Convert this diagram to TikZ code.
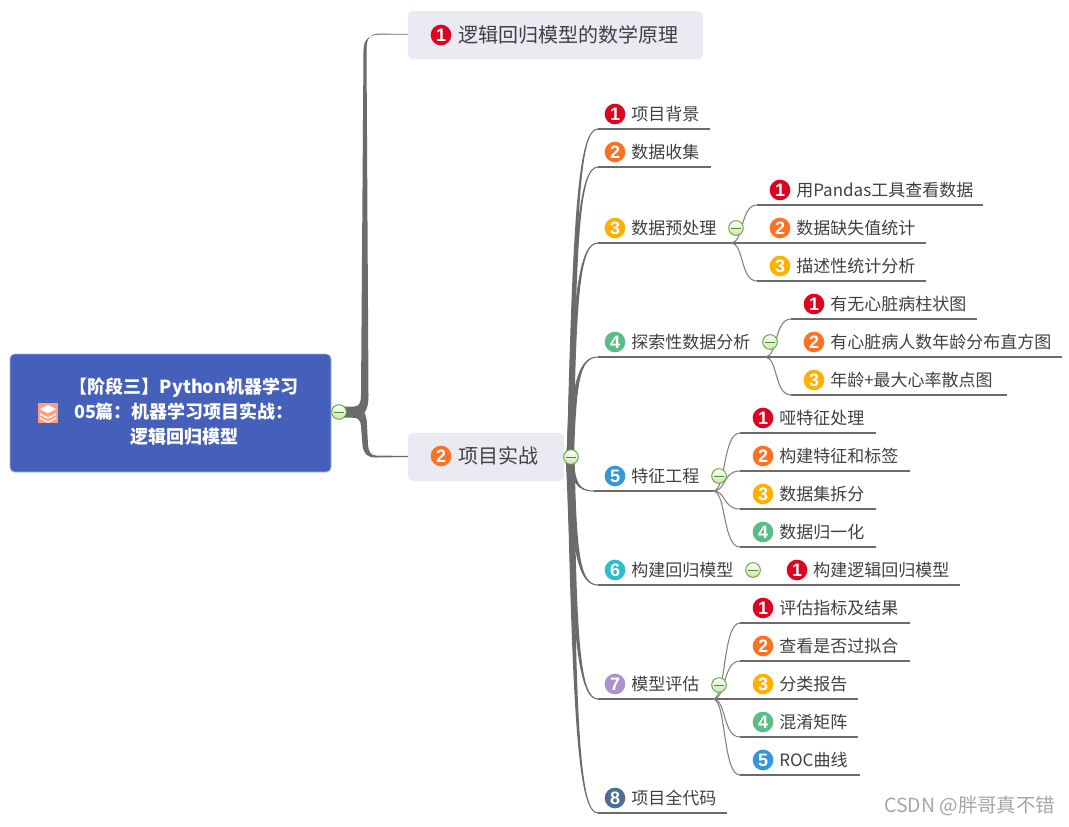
\documentclass[tikz,border=0pt]{standalone}
\usepackage{fontspec}
\setmainfont{Noto Sans CJK SC}
\newfontfamily\digitfont{Liberation Sans}
\usetikzlibrary{calc}
\definecolor{linkgray}{HTML}{6B6B6B}
\definecolor{textgray}{HTML}{404040}
\definecolor{rootblue}{HTML}{4460BB}
\definecolor{rootedge}{HTML}{A5B2DE}
\definecolor{topicbg}{HTML}{E9EAF2}
\definecolor{iconred}{HTML}{FF9E85}
\definecolor{btngreen}{HTML}{5FA82B}
\definecolor{btnfill}{HTML}{C9E3B8}
\definecolor{btnminus}{HTML}{4E8F22}
\definecolor{cred}{HTML}{DC0420}
\definecolor{corange}{HTML}{FF7122}
\definecolor{cyellow}{HTML}{FFB000}
\definecolor{cgreen}{HTML}{5ABD85}
\definecolor{cblue}{HTML}{3497DA}
\definecolor{ccyan}{HTML}{2DBCD0}
\definecolor{cpurple}{HTML}{AB92CE}
\definecolor{cnavy}{HTML}{4D6E94}
\tikzset{
  badge/.style={circle, inner sep=0pt, minimum size=15.5pt, text=white, font=\digitfont\fontsize{13.5}{13.5}\selectfont\bfseries},
  itemtxt/.style={anchor=west, inner sep=0pt, text=textgray, font=\fontsize{12.75}{14}\selectfont},
  topictxt/.style={anchor=west, inner sep=0pt, text=textgray, font=\fontsize{15}{16}\selectfont},
  topicbox/.style={rectangle, rounded corners=3.5pt, fill=topicbg, inner sep=0pt, minimum height=36pt},
  rootbox/.style={rectangle, rounded corners=3.5pt, fill=rootblue, draw=rootedge, line width=.5pt, inner sep=0pt, minimum width=240.75pt, minimum height=88.5pt},
  roottxt/.style={align=center, inner sep=0pt, text=white, font=\fontsize{13.5}{18.75}\selectfont\bfseries},
  btnmark/.style={circle, draw=btngreen, line width=.7pt, minimum size=11pt, inner sep=0pt, top color=white, bottom color=btnfill,
    path picture={\draw[line width=.7pt, btnminus] ([xshift=-3.6pt]path picture bounding box.center) -- ([xshift=3.6pt]path picture bounding box.center);}},
  underline/.style={draw=linkgray, line width=.8pt},
  thinlink/.style={draw=linkgray!85, line width=.8pt},
}
% filled branch that narrows from its hub to its far end
\newcommand\taperlink[3]{
\fill[linkgray] let \p1=(#1), \p2=(#2), \n1={(\y2>\y1)*2-1} in
  ({\x1-#3*.75pt},\y1) .. controls ({\x1+.15*(\x2-\x1)-#3*.4pt},{\y1+.75*(\y2-\y1)}) and ({\x1+.3*(\x2-\x1)},{\y2+\n1*.4pt}) .. (\x2,{\y2+\n1*.4pt})
  -- (\x2,{\y2-\n1*.4pt}) .. controls ({\x1+.35*(\x2-\x1)},{\y2-\n1*.4pt}) and ({\x1+.15*(\x2-\x1)+#3*.4pt},{\y1+.75*(\y2-\y1)}) .. ({\x1+#3*.75pt},\y1) -- cycle;
}
\newcommand\sublink[2]{
\draw[thinlink] let \p1=(#1), \p2=(#2) in (\p1) .. controls ({\x1+.5*(\x2-\x1)},\y1) and ({\x1+.35*(\x2-\x1)},\y2) .. (\p2);
}
\begin{document}
\begin{tikzpicture}[x=.75pt,y=-.75pt]
\useasboundingbox (0,0) rectangle (1069,826);
% main arms
\fill[linkgray] (335,406.5) -- (354,406.5) .. controls (359,406.5) and (361,403) .. (361,395) -- (363.5,50) .. controls (364,39) and (369,34.6) .. (380,34.6) -- (408,34.6) -- (408,34) -- (380,33.6) .. controls (370,33.6) and (366.5,38) .. (366.5,50) -- (368.5,395) .. controls (368.5,405) and (367,409) .. (364.5,412.5) -- (354,417.5) -- (335,417.5) -- cycle;
\fill[linkgray] (352,417.5) .. controls (358,417.5) and (360.5,420) .. (361,426) -- (362.5,445) .. controls (363.5,454) and (367,457.5) .. (376,457.5) -- (408,457) -- (408,456) -- (376,455.5) .. controls (371,455.5) and (368.5,452) .. (368,445) -- (367,425) .. controls (367,420) and (366,416) .. (364.5,412.5) -- cycle;
% hubs and ends of the second level
\coordinate (hub2) at (570,457);
\coordinate (s1) at (598,129);
\coordinate (s2) at (598,167);
\coordinate (s3) at (598,243);
\coordinate (s4) at (598,357);
\coordinate (s5) at (594,491);
\coordinate (s6) at (598,585);
\coordinate (s7) at (598,699);
\coordinate (s8) at (598,813);
\coordinate (e1) at (710,129);
\coordinate (e2) at (711,167);
\coordinate (e6) at (960,585);
\coordinate (e8) at (727,813);
\taperlink{hub2}{s1}{3}
\taperlink{hub2}{s2}{3}
\taperlink{hub2}{s3}{3.5}
\taperlink{hub2}{s4}{4}
\taperlink{hub2}{s5}{3.5}
\taperlink{hub2}{s6}{4.5}
\taperlink{hub2}{s7}{4}
\taperlink{hub2}{s8}{3}
\draw[underline] (s1) -- (e1);
\draw[underline] (s2) -- (e2);
\draw[underline] (s6) -- (e6);
\draw[underline] (s8) -- (e8);
% leaves of row 3
\coordinate (hub3) at (731,243);
\coordinate (e31) at (983,205);
\coordinate (e32) at (926,243);
\coordinate (e33) at (926,281);
\coordinate (s31) at (757,205);
\coordinate (s33) at (757,281);
\draw[underline] (s3) -- (e32);
\sublink{hub3}{s31}
\sublink{hub3}{s33}
\draw[underline] (s31) -- (e31);
\draw[underline] (s33) -- (e33);
% leaves of row 4
\coordinate (hub4) at (765,357);
\coordinate (e41) at (977,319);
\coordinate (e42) at (1062,357);
\coordinate (e43) at (1007,395);
\coordinate (s41) at (791,319);
\coordinate (s43) at (791,395);
\draw[underline] (s4) -- (e42);
\sublink{hub4}{s41}
\sublink{hub4}{s43}
\draw[underline] (s41) -- (e41);
\draw[underline] (s43) -- (e43);
% leaves of row 5
\coordinate (hub5) at (713,491);
\coordinate (h5) at (716,491);
\coordinate (e51) at (876,433);
\coordinate (e52) at (910,471);
\coordinate (e53) at (876,509);
\coordinate (e54) at (876,547);
\coordinate (s51) at (740,433);
\coordinate (s52) at (740,471);
\coordinate (s53) at (740,509);
\coordinate (s54) at (740,547);
\draw[underline] (s5) -- (h5);
\sublink{hub5}{s51}
\sublink{hub5}{s52}
\sublink{hub5}{s53}
\sublink{hub5}{s54}
\draw[underline] (s51) -- (e51);
\draw[underline] (s52) -- (e52);
\draw[underline] (s53) -- (e53);
\draw[underline] (s54) -- (e54);
% leaves of row 7
\coordinate (hub7) at (713,699);
\coordinate (e71) at (910,623);
\coordinate (e72) at (910,661);
\coordinate (e73) at (858,699);
\coordinate (e74) at (858,737);
\coordinate (e75) at (860,775);
\coordinate (s71) at (740,623);
\coordinate (s72) at (740,661);
\coordinate (s74) at (740,737);
\coordinate (s75) at (740,775);
\draw[underline] (s7) -- (e73);
\sublink{hub7}{s71}
\sublink{hub7}{s72}
\sublink{hub7}{s74}
\sublink{hub7}{s75}
\draw[underline] (s71) -- (e71);
\draw[underline] (s72) -- (e72);
\draw[underline] (s74) -- (e74);
\draw[underline] (s75) -- (e75);
% root and topics
\node[rootbox] (root) at (170.5,413){};
\node[roottxt] (rootlab) at (184,412){【阶段三】Python机器学习\\05篇：机器学习项目实战：\\逻辑回归模型};
\node[rectangle, fill=iconred, minimum size=15pt, inner sep=0pt] (icon) at (48,413){};
\fill[white] (icon.center) ++(0,-8) -- ++(8,4) -- ++(-8,4) -- ++(-8,-4) -- cycle;
\draw[white, line width=1pt] (icon.center) ++(-8,1) -- ++(8,4) -- ++(8,-4);
\draw[white, line width=1pt] (icon.center) ++(-8,5) -- ++(8,4) -- ++(8,-4);
\node[topicbox, minimum width=221.25pt] (top1) at (555.5,35){};
\node[topicbox, minimum width=117pt] (top2) at (486,457){};
\node[badge, fill=cred] (btop1) at (441,35){1};
\node[topictxt] (ttop1) at (458,35){逻辑回归模型的数学原理};
\node[badge, fill=corange] (btop2) at (441,456){2};
\node[topictxt] (ttop2) at (458,456){项目实战};
% second level
\node[badge, fill=cred] (b1) at (615,114){1};
\node[itemtxt] (t1) at (631,114){项目背景};
\node[badge, fill=corange] (b2) at (615,152){2};
\node[itemtxt] (t2) at (631,152){数据收集};
\node[badge, fill=cyellow] (b3) at (615,228){3};
\node[itemtxt] (t3) at (631,228){数据预处理};
\node[badge, fill=cgreen] (b4) at (615,342){4};
\node[itemtxt] (t4) at (631,342){探索性数据分析};
\node[badge, fill=cblue] (b5) at (615,476){5};
\node[itemtxt] (t5) at (631,476){特征工程};
\node[badge, fill=ccyan] (b6) at (615,570){6};
\node[itemtxt] (t6) at (631,570){构建回归模型};
\node[badge, fill=cpurple] (b7) at (615,684){7};
\node[itemtxt] (t7) at (631,684){模型评估};
\node[badge, fill=cnavy] (b8) at (615,798){8};
\node[itemtxt] (t8) at (631,798){项目全代码};
% third level
\node[badge, fill=cred] (b31) at (780,190){1};
\node[itemtxt] (t31) at (796,190){用Pandas工具查看数据};
\node[badge, fill=corange] (b32) at (780,228){2};
\node[itemtxt] (t32) at (796,228){数据缺失值统计};
\node[badge, fill=cyellow] (b33) at (780,266){3};
\node[itemtxt] (t33) at (796,266){描述性统计分析};
\node[badge, fill=cred] (b41) at (814,304){1};
\node[itemtxt] (t41) at (830,304){有无心脏病柱状图};
\node[badge, fill=corange] (b42) at (814,342){2};
\node[itemtxt] (t42) at (830,342){有心脏病人数年龄分布直方图};
\node[badge, fill=cyellow] (b43) at (814,380){3};
\node[itemtxt] (t43) at (830,380){年龄+最大心率散点图};
\node[badge, fill=cred] (b51) at (763,418){1};
\node[itemtxt] (t51) at (779,418){哑特征处理};
\node[badge, fill=corange] (b52) at (763,456){2};
\node[itemtxt] (t52) at (779,456){构建特征和标签};
\node[badge, fill=cyellow] (b53) at (763,494){3};
\node[itemtxt] (t53) at (779,494){数据集拆分};
\node[badge, fill=cgreen] (b54) at (763,532){4};
\node[itemtxt] (t54) at (779,532){数据归一化};
\node[badge, fill=cred] (b61) at (797,570){1};
\node[itemtxt] (t61) at (813,570){构建逻辑回归模型};
\node[badge, fill=cred] (b71) at (763,608){1};
\node[itemtxt] (t71) at (779,608){评估指标及结果};
\node[badge, fill=corange] (b72) at (763,646){2};
\node[itemtxt] (t72) at (779,646){查看是否过拟合};
\node[badge, fill=cyellow] (b73) at (763,684){3};
\node[itemtxt] (t73) at (779,684){分类报告};
\node[badge, fill=cgreen] (b74) at (763,722){4};
\node[itemtxt] (t74) at (779,722){混淆矩阵};
\node[badge, fill=cblue] (b75) at (763,760){5};
\node[itemtxt] (t75) at (779,760){ROC曲线};
% collapse buttons
\node[btnmark] (btn0) at (339,412){};
\node[btnmark] (btn2) at (571,457){};
\node[btnmark] (btn3) at (736,228){};
\node[btnmark] (btn4) at (770,342){};
\node[btnmark] (btn5) at (719,476){};
\node[btnmark] (btn6) at (753,570){};
\node[btnmark] (btn7) at (719,685){};
\node[anchor=west, inner sep=0pt, text=black!35, font=\fontsize{14.6}{16}\selectfont] (wmark) at (884,806){CSDN @胖哥真不错};
\end{tikzpicture}
\end{document}
